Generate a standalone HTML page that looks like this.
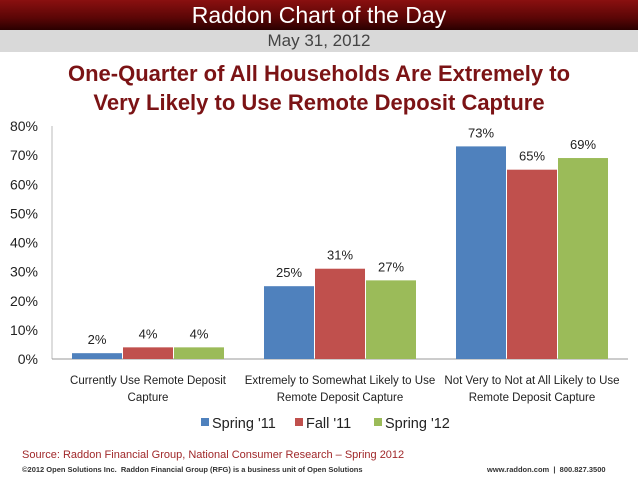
<!DOCTYPE html>
<html><head><meta charset="utf-8"><style>
body{margin:0;width:638px;height:478px;overflow:hidden;background:#fff;font-family:"Liberation Sans",sans-serif;position:relative}
.abs{position:absolute}
</style></head><body>
<div class="abs" style="left:0;top:0;width:638px;height:30px;background:linear-gradient(#8a1010,#5a0606 60%,#2a0000)"></div>
<div class="abs" style="left:0;top:1px;width:638px;text-align:center;color:#fff;font-size:23px;line-height:28px">Raddon Chart of the Day</div>
<div class="abs" style="left:0;top:30px;width:638px;height:22px;background:#d9d9d9;text-align:center;color:#444;font-size:17px;line-height:22px">May 31, 2012</div>
<div class="abs" style="left:0;top:59px;width:638px;text-align:center;color:#7b1315;font-size:22px;font-weight:bold;line-height:29px">One-Quarter of All Households Are Extremely to<br>Very Likely to Use Remote Deposit Capture</div>
<svg class="abs" style="left:0;top:0" width="638" height="478" id="chart"></svg>
<div class="abs" style="left:22px;top:449px;color:#a0282a;font-size:11px">Source: Raddon Financial Group, National Consumer Research – Spring 2012</div>
<div class="abs" style="left:22px;top:465px;color:#333;font-size:7.5px;font-weight:bold">©2012 Open Solutions Inc.&nbsp; Raddon Financial Group (RFG) is a business unit of Open Solutions</div>
<div class="abs" style="left:487px;top:465px;color:#333;font-size:7.5px;font-weight:bold">www.raddon.com&nbsp; |&nbsp; 800.827.3500</div>
<script>
const categories=[["Currently Use Remote Deposit","Capture"],["Extremely to Somewhat Likely to Use","Remote Deposit Capture"],["Not Very to Not at All Likely to Use","Remote Deposit Capture"]];
const seriesNames=["Spring '11","Fall '11","Spring '12"];
const spring11=[2,25,73];
const fall11=[4,31,65];
const spring12=[4,27,69];
const ticks=[0,10,20,30,40,50,60,70,80];
const colors=["#4f81bd","#c0504d","#9bbb59"];
const svg=document.getElementById('chart');const NS="http://www.w3.org/2000/svg";
function mk(t,a,txt){const e=document.createElementNS(NS,t);for(const k in a)e.setAttribute(k,a[k]);if(txt!=null)e.textContent=txt;svg.appendChild(e);return e;}
const x0=52,y0=359,catW=192,barW=50;
const y=v=>y0-v*(y0-126)/80;
ticks.forEach(t=>{const e=mk('text',{x:38,y:y(t)+5,'text-anchor':'end','font-size':14,fill:'#222','font-family':'Liberation Sans'},t+'%');

});
const ax=mk('line',{x1:x0,y1:126,x2:x0,y2:y0,stroke:'#bbb'});


const bx=mk('line',{x1:x0,y1:y0,x2:628,y2:y0,stroke:'#999'});


const series=[spring11,fall11,spring12];
categories.forEach((c,i)=>{const cx=x0+catW*i+catW/2;
series.forEach((s,j)=>{const bx0=cx-1.5*barW-1+j*(barW+1);
const r=mk('rect',{x:bx0,y:y(s[i]),width:barW,height:y0-y(s[i]),fill:colors[j]});


const l=mk('text',{x:bx0+barW/2,y:y(s[i])-9,'text-anchor':'middle','font-size':13,fill:'#222','font-family':'Liberation Sans'},s[i]+'%');

});
c.forEach((ln,k)=>{const t=mk('text',{x:cx,y:384+k*17,'text-anchor':'middle','font-size':11.5,fill:'#222','font-family':'Liberation Sans'},ln);

});});
let lx=201;seriesNames.forEach((n,j)=>{const r=mk('rect',{x:lx,y:418,width:8,height:8,fill:colors[j]});


const t=mk('text',{x:lx+11,y:428,'font-size':14.5,fill:'#222','font-family':'Liberation Sans'},n);


lx+=[94,79,0][j];});
</script>
</body></html>
